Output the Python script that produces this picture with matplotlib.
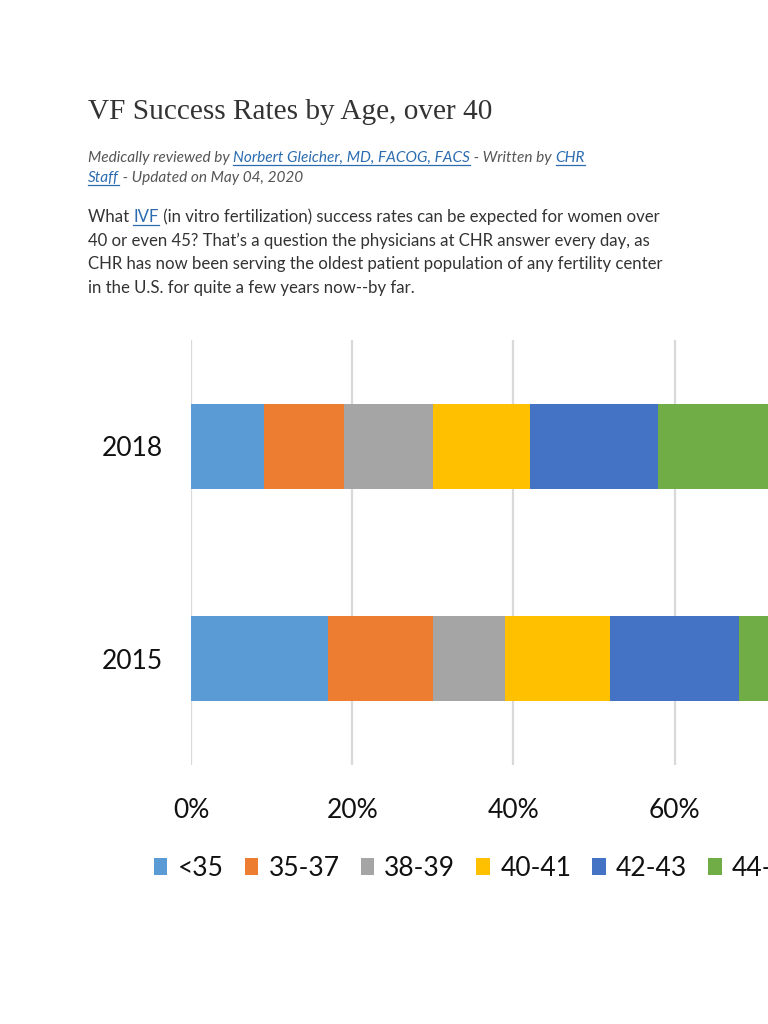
"""IVF success rates by age: web-page style screenshot of a 100% stacked bar chart."""
import matplotlib
matplotlib.use("Agg")
import matplotlib.pyplot as plt
from matplotlib.lines import Line2D
from matplotlib.patches import Patch

W, H = 768, 1024

# data (percent of cycles per age group); segments past ~71% are cut off in the source
years = ["2015", "2018"]
age_groups = ["<35", "35-37", "38-39", "40-41", "42-43", "44-45", ">45"]
share_2015 = [17, 13, 9, 13, 16, 15, 17]
share_2018 = [9, 10, 11, 12, 16, 20, 22]
xticks = [0, 20, 40, 60, 80, 100]
xtick_labels = ["0%", "20%", "40%", "60%", "80%", "100%"]
colors = ["#5B9BD5", "#ED7D31", "#A5A5A5", "#FFC000", "#4472C4", "#70AD47", "#255E91"]

title = "VF Success Rates by Age, over 40"
byline = [
    [("Medically reviewed by ", False), ("Norbert Gleicher, MD, FACOG, FACS", True),
     (" - Written by ", False), ("CHR", True)],
    [("Staff", True), (" - Updated on May 04, 2020", False)],
]
body = [
    [("What ", False), ("IVF", True),
     (" (in vitro fertilization) success rates can be expected for women over", False)],
    [("40 or even 45? That\u2019s a question the physicians at CHR answer every day, as", False)],
    [("CHR has now been serving the oldest patient population of any fertility center", False)],
    [("in the U.S. for quite a few years now--by far.", False)],
]

TEXT = "#333333"
META = "#555555"
LINK = "#2b6cb0"

fig = plt.figure(figsize=(W / 100, H / 100), dpi=100)
renderer = fig.canvas.get_renderer()


def text_runs(x_px, y_px, parts, **kw):
    """Place runs of text left to right on one baseline; underline the link runs."""
    x = x_px / W
    y = 1 - y_px / H
    for s, link in parts:
        t = fig.text(x, y, s, color=LINK if link else kw.get("color", TEXT),
                     va="baseline", ha="left",
                     **{k: v for k, v in kw.items() if k != "color"})
        bb = t.get_window_extent(renderer)
        if link:
            uy = y - 2.5 / H
            fig.add_artist(Line2D([bb.x0 / W, bb.x1 / W], [uy, uy],
                                  color=LINK, lw=0.9, transform=fig.transFigure))
        x = bb.x1 / W


fig.text(88 / W, 1 - 119 / H, title, family="Liberation Serif", fontsize=21.1,
         color=TEXT, va="baseline")

for i, line in enumerate(byline):
    text_runs(88, 162 + i * 20, line, family="Lato", style="italic",
              fontsize=11.1, color=META)

for i, line in enumerate(body):
    text_runs(88, 222 + i * 23.7, line, family="Lato", fontsize=12.1, color=TEXT)

# chart: 0% at x=191px, 100% at x=997px (off the page), plot area y 340..765
ax = fig.add_axes([191 / W, 1 - 765 / H, 806 / W, 425 / H])
ypos = range(len(years))
left = [0, 0]
for j, grp in enumerate(age_groups):
    vals = [share_2015[j], share_2018[j]]
    ax.barh(ypos, vals, left=left, height=0.4, color=colors[j], label=grp, zorder=3)
    left = [a + b for a, b in zip(left, vals)]

ax.set_xlim(0, 100)
ax.set_ylim(-0.5, 1.5)
ax.set_xticks(xticks)
ax.set_xticklabels(xtick_labels)
ax.set_yticks(list(ypos))
ax.set_yticklabels(years)
ax.grid(axis="x", color="#D9D9D9", lw=1.6, zorder=0)
for s in ax.spines.values():
    s.set_visible(False)
ax.tick_params(axis="both", length=0, labelsize=19, labelcolor="#111111")
ax.tick_params(axis="x", pad=24)
ax.tick_params(axis="y", pad=20)
for lab in ax.get_xticklabels() + ax.get_yticklabels():
    lab.set_family("Lato")

handles = [Patch(facecolor=c, edgecolor="none") for c in colors]
leg = fig.legend(handles, age_groups, loc="center left",
                 bbox_to_anchor=(154 / W, 1 - 868 / H), bbox_transform=fig.transFigure,
                 ncol=len(age_groups), frameon=False, borderpad=0, borderaxespad=0,
                 handlelength=0.5, handleheight=0.6, handletextpad=0.4,
                 columnspacing=0.8, prop={"family": "Lato", "size": 19})
for t in leg.get_texts():
    t.set_color("#111111")

fig.savefig("out.png", dpi=100)
